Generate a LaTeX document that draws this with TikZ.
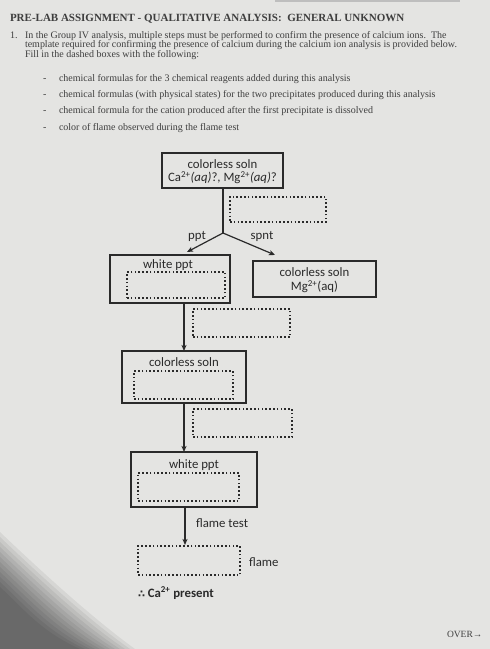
\documentclass[tikz,border=0pt]{standalone}
\usepackage{fontspec}
\setmainfont{Liberation Serif}
\newfontfamily\diag{Carlito}
\newfontfamily\symf{DejaVu Sans}
\usetikzlibrary{arrows.meta}
\definecolor{bg}{HTML}{E4E4E2}
\definecolor{ink}{HTML}{2A2A2A}
\definecolor{txt}{HTML}{3E3E3E}
\begin{document}
\begin{tikzpicture}[x=1pt,y=-1pt,
  every node/.style={inner sep=0pt, outer sep=0pt},
  solidbox/.style={draw=ink, line width=1.2pt, rectangle},
  dotbox/.style={draw=ink, line width=1.6pt, dash pattern=on 1.6pt off 2.2pt, rectangle},
  dtext/.style={font=\diag\fontsize{12.8}{14}\selectfont, text=ink},
  hdtext/.style={font=\fontsize{10}{11}\selectfont, text=txt, anchor=base west},
  conn/.style={draw=ink, line width=1.2pt},
  arr/.style={conn, -{Stealth[length=6pt,width=5pt,inset=1.5pt]}}
]
\useasboundingbox (0,0) rectangle (490,649);
\fill[bg] (0,0) rectangle (490,649);
\fill[gray!70, opacity=0.6] (275,0) rectangle (460,2);
% soft shadow lower left
\foreach \i in {0,...,11} {
  \fill[black, opacity=0.06] (0,{532+5*\i}) .. controls ({45-2*\i},{575+3*\i}) and ({95-5*\i},{620+1*\i}) .. ({135-5*\i},649) -- (0,649) -- cycle;
}

% header
\node[anchor=base west, font=\bfseries\fontsize{11}{13}\selectfont, text=txt] (title) at (10,21)
  {PRE-LAB ASSIGNMENT - QUALITATIVE ANALYSIS:\ \ GENERAL UNKNOWN};
\node[hdtext] (num) at (10,38) {1.};
\node[hdtext] (p1) at (25,38) {In the Group IV analysis, multiple steps must be performed to confirm the presence of calcium ions.\ \ The};
\node[hdtext] (p2) at (25,47.5) {template required for confirming the presence of calcium during the calcium ion analysis is provided below.};
\node[hdtext] (p3) at (25,57) {Fill in the dashed boxes with the following:};
\node[hdtext] (d1) at (43,81) {-};
\node[hdtext] (b1) at (59,81) {chemical formulas for the 3 chemical reagents added during this analysis};
\node[hdtext] (d2) at (43,97) {-};
\node[hdtext] (b2) at (59,97) {chemical formulas (with physical states) for the two precipitates produced during this analysis};
\node[hdtext] (d3) at (43,113) {-};
\node[hdtext] (b3) at (59,113) {chemical formula for the cation produced after the first precipitate is dissolved};
\node[hdtext] (d4) at (43,130) {-};
\node[hdtext] (b4) at (59,130) {color of flame observed during the flame test};

% boxes
\node[solidbox, minimum width=121pt, minimum height=35pt] (box1) at (222.5,170.5) {};
\node[dtext] (t1a) at (222.5,164) {colorless soln};
\node[dtext] (t1b) at (222.5,178) {Ca\textsuperscript{2+}\textit{(aq)}?, Mg\textsuperscript{2+}\textit{(aq)}?};
\node[dotbox, minimum width=96pt, minimum height=25pt] (dot1) at (278,209.5) {};

\coordinate (J) at (223,233);
\coordinate (pE) at (187,252);
\coordinate (sE) at (275,255);
\node[dtext] (ppt) at (197,236) {ppt};
\node[dtext] (spnt) at (262,236) {spnt};

\node[solidbox, minimum width=120pt, minimum height=48pt] (box2) at (170,279) {};
\node[dtext] (t2) at (168,265) {white ppt};
\node[dotbox, minimum width=98pt, minimum height=26pt] (dot2in) at (176,285) {};

\node[solidbox, minimum width=123pt, minimum height=36pt] (mg) at (314.5,279) {};
\node[dtext] (tm1) at (314.5,272) {colorless soln};
\node[dtext] (tm2) at (314.5,287) {Mg\textsuperscript{2+}(aq)};

\node[dotbox, minimum width=97pt, minimum height=28pt] (dot2) at (241.5,323) {};

\node[solidbox, minimum width=124pt, minimum height=52pt] (box3) at (184,377) {};
\node[dtext] (t3) at (184,362) {colorless soln};
\node[dotbox, minimum width=99pt, minimum height=28pt] (dot3in) at (183.5,385) {};

\node[dotbox, minimum width=99pt, minimum height=28pt] (dot3) at (242.5,423) {};

\node[solidbox, minimum width=126pt, minimum height=55pt] (box4) at (194,479.5) {};
\node[dtext] (t4) at (194,465) {white ppt};
\node[dotbox, minimum width=101pt, minimum height=28pt] (dot4in) at (188.5,487) {};

\node[dtext, anchor=west] (ft) at (196,523) {flame test};
\node[dotbox, minimum width=102pt, minimum height=29pt] (dot4) at (189,560.5) {};
\node[dtext, anchor=west] (fl) at (249,562) {flame};
\node[dtext, anchor=west, font=\diag\bfseries\fontsize{12.8}{14}\selectfont] (conc) at (138,593) {{\symf\fontsize{10}{12}\selectfont ∴} Ca\textsuperscript{2+} present};

\node[anchor=base west, font=\fontsize{9.5}{11}\selectfont, text=txt] (over) at (447,637) {OVER→};

% connectors
\draw[conn] (box1.south -| J) -- (J);
\draw[arr] (J) -- (pE);
\draw[arr] (J) -- (sE);
\draw[arr] (box2.south -| 184,0) -- (box3.north -| 184,0);
\draw[arr] (box3.south -| 184,0) -- (box4.north -| 184,0);
\coordinate (fE) at (185,545);
\draw[arr] (box4.south -| fE) -- (fE);
\end{tikzpicture}
\end{document}
